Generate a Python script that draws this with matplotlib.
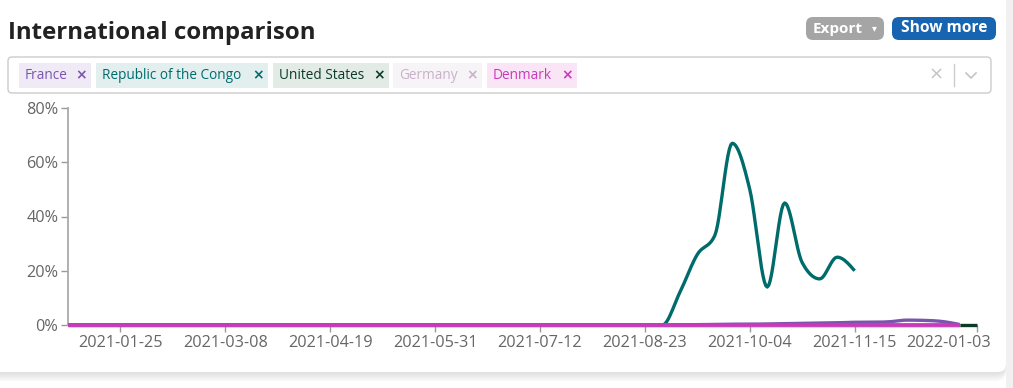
import numpy as np
import pandas as pd
import matplotlib
matplotlib.use("Agg")
import matplotlib.pyplot as plt
import matplotlib.dates as mdates
from matplotlib.patches import FancyBboxPatch, Rectangle
from matplotlib.ticker import FixedLocator
from matplotlib.transforms import ScaledTranslation

plt.rcParams['font.family'] = ['Open Sans', 'DejaVu Sans']

# ---------------- data ----------------
title = "International comparison"
countries = ["France", "Republic of the Congo", "United States", "Germany", "Denmark"]
colors = ["#7b55ad", "#006b6b", "#0b3b26", "#c9b1c9", "#c83ab8"]
chip_bg = ["#efeaf5", "#e3eeee", "#e3ebe6", "#f6f4f7", "#f9e5f6"]

week_start = "2021-01-04"
n_weeks_france = 52
n_weeks_congo = 46
n_weeks_us = 53
n_weeks_germany = 52
n_weeks_denmark = 52

france = [0]*35 + [0.05, 0.1, 0.2, 0.3, 0.3, 0.4, 0.5, 0.6, 0.7, 0.8, 1.0,
                   1.0, 1.2, 1.8, 1.7, 1.3, 0.2]
congo = [0]*34 + [0, 12, 26, 33, 67, 50, 14, 45, 23, 17, 25, 20]
united_states = [0]*53
germany = [0]*52
denmark = [0]*52

series_values = [france, congo, united_states, germany, denmark]

xtick_labels = ["2021-01-25", "2021-03-08", "2021-04-19", "2021-05-31", "2021-07-12",
                "2021-08-23", "2021-10-04", "2021-11-15", "2022-01-03"]
ytick_values = [0, 20, 40, 60, 80]
x_range = ["2021-01-04", "2022-01-03"]


def monotone(x, y, n=12):
    x = np.asarray(x, float); y = np.asarray(y, float)
    h = np.diff(x); s = np.diff(y) / h
    m = np.zeros_like(y)
    for i in range(1, len(y) - 1):
        s0, s1 = s[i-1], s[i]
        p = (s0 * h[i] + s1 * h[i-1]) / (h[i-1] + h[i])
        m[i] = (np.sign(s0) + np.sign(s1)) * min(abs(s0), abs(s1), 0.5 * abs(p))
    if len(y) > 2:
        m[0] = (3 * s[0] - m[1]) / 2
        m[-1] = (3 * s[-1] - m[-2]) / 2
    else:
        m[:] = s[0]
    xs, ys = [], []
    for i in range(len(h)):
        t = np.linspace(0, 1, n, endpoint=False)
        h00 = 2*t**3 - 3*t**2 + 1; h10 = t**3 - 2*t**2 + t
        h01 = -2*t**3 + 3*t**2; h11 = t**3 - t**2
        xs.append(x[i] + t*h[i])
        ys.append(h00*y[i] + h10*h[i]*m[i] + h01*y[i+1] + h11*h[i]*m[i+1])
    xs.append([x[-1]]); ys.append([y[-1]])
    return np.concatenate(xs), np.concatenate(ys)


W, H = 1013, 388
fig = plt.figure(figsize=(W/100, H/100), dpi=100, facecolor="white")

# background / UI layer in pixel coords
bg = fig.add_axes([0, 0, 1, 1], zorder=0)
bg.set_xlim(0, W); bg.set_ylim(H, 0); bg.axis("off")

bg.add_patch(Rectangle((1006, 0), 7, H, color="#f1f1f1", lw=0))
for i in range(6):
    bg.add_patch(FancyBboxPatch((-20, -20), 1026, 392 + 2 + i*1.5,
                                boxstyle="round,pad=0,rounding_size=10",
                                fc="black", ec="none", alpha=0.018))
bg.add_patch(FancyBboxPatch((-20, -20), 1026, 392, boxstyle="round,pad=0,rounding_size=8",
                            fc="white", ec="none"))

bg.text(8, 33, title, fontsize=17.3, fontweight="bold", color="#222222",
        va="center", ha="left")

# buttons
bg.add_patch(FancyBboxPatch((806, 17), 78, 23, boxstyle="round,pad=0,rounding_size=7",
                            fc="#a5a5a5", ec="none"))
bg.text(838, 28.5, "Export", fontsize=11, fontweight="bold", color="white",
        ha="center", va="center")
bg.text(874, 28.5, "▾", fontsize=7, color="white", ha="center", va="center",
        family="DejaVu Sans")
bg.add_patch(FancyBboxPatch((892, 17), 104, 23, boxstyle="round,pad=0,rounding_size=7",
                            fc="#1765b0", ec="none"))
bg.text(944, 28.5, "Show more", fontsize=11.2, fontweight="bold", color="white",
        ha="center", va="center")

# select box
bg.add_patch(FancyBboxPatch((8, 57), 983, 36, boxstyle="round,pad=0,rounding_size=4",
                            fc="white", ec="#cccccc", lw=1))
chip_x = [19, 96, 273, 393, 487]
chip_w = [72, 172, 116, 89, 90]
for name, c, b, x0, w in zip(countries, colors, chip_bg, chip_x, chip_w):
    bg.add_patch(Rectangle((x0, 63), w, 25, fc=b, ec="none"))
    bg.text(x0 + 6, 75.5, name, fontsize=9.8, color=c, ha="left", va="center")
    bg.text(x0 + w - 10, 75, "×", fontsize=10, fontweight="bold", color=c,
            ha="center", va="center", family="DejaVu Sans")
bg.text(936, 75, "×", fontsize=13, color="#c4c4c4", ha="center", va="center",
        family="DejaVu Sans")
bg.plot([954, 954], [64, 86], color="#cccccc", lw=1)
bg.plot([966, 971, 976], [73, 78, 73], color="#c4c4c4", lw=1.2)

# plot axes
L, R, T, B = 68, 977, 108, 325
ax = fig.add_axes([L/W, 1 - B/H, (R-L)/W, (B-T)/H], zorder=2)
ax.patch.set_alpha(0)

counts = [n_weeks_france, n_weeks_congo, n_weeks_us, n_weeks_germany, n_weeks_denmark]
zorders = [4, 3, 3, 3, 5]
widths = [2.4, 2.4, 2.4, 2.4, 2.7]
for i in range(len(countries)):
    dates = pd.date_range(week_start, periods=counts[i], freq="7D")
    xn = mdates.date2num(dates.to_pydatetime())
    xs, ys = monotone(xn, series_values[i])
    ax.plot(xs, ys, color=colors[i], lw=widths[i], solid_capstyle="butt",
            zorder=zorders[i], clip_on=False)

ax.set_xlim(mdates.date2num(pd.Timestamp(x_range[0])), mdates.date2num(pd.Timestamp(x_range[1])))
ax.set_ylim(0, 80)
ax.xaxis.set_major_locator(FixedLocator(mdates.date2num(pd.to_datetime(xtick_labels).to_pydatetime())))
ax.set_xticklabels(xtick_labels)
ax.set_yticks(ytick_values)
ax.set_yticklabels([f"{v}%" for v in ytick_values])
for s in ["top", "right", "bottom"]:
    ax.spines[s].set_visible(False)
ax.spines["left"].set_color("#aaaaaa")
ax.spines["left"].set_linewidth(1.3)
ax.tick_params(axis="both", colors="#999999", labelcolor="#666666", labelsize=11.7,
               length=5, width=1)
ax.tick_params(axis="x", pad=2)
ax.tick_params(axis="y", pad=2)

last = ax.get_xticklabels()[-1]
last.set_horizontalalignment("right")
last.set_transform(last.get_transform() + ScaledTranslation(0.14, 0, fig.dpi_scale_trans))

fig.savefig("out.png", dpi=100, facecolor="white")
